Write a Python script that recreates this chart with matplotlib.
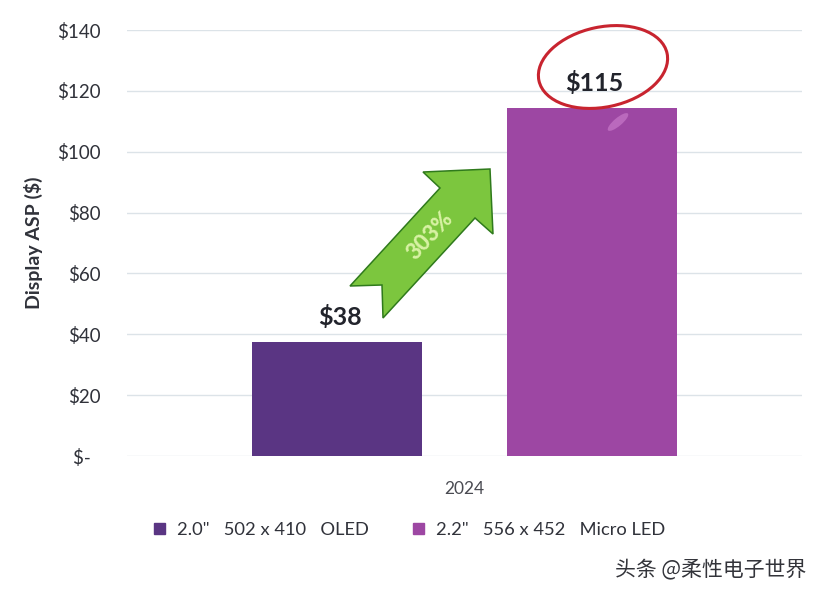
import numpy as np
import matplotlib.pyplot as plt
from matplotlib.patches import Ellipse, Polygon

plt.rcParams['font.family'] = ['Lato', 'DejaVu Sans']

years = ['2024']
series_names = ['2.0"   502 x 410   OLED', '2.2"   556 x 452   Micro LED']
series_values = [37.5, 114.5]
bar_labels = ['$38', '$115']
bar_colors = ['#5a3583', '#9d47a3']
y_ticks = [0, 20, 40, 60, 80, 100, 120, 140]
y_tick_labels = ['$-  ', '$20', '$40', '$60', '$80', '$100', '$120', '$140']
arrow_label = '303%'
watermark = '头条 @柔性电子世界'

W, H = 824, 596
TEXT = '#30323a'

fig = plt.figure(figsize=(W / 100, H / 100), dpi=100)
ax = fig.add_axes([127 / W, 1 - 456 / H, (802 - 127) / W, (456 - 30) / H])

x_pos = np.arange(len(series_values))
bars = ax.bar(x_pos, series_values, width=0.665, color=bar_colors, zorder=3)
ax.set_xlim(-0.824, 1.824)
ax.set_ylim(0, 140)

ax.set_yticks(y_ticks)
ax.set_yticklabels([s.replace('$', r'\$') for s in y_tick_labels], fontsize=13.5, color=TEXT)
ax.set_xticks([0.5])
ax.set_xticklabels(years, fontsize=12.5, color='#4a4b52')
ax.tick_params(axis='both', length=0)
ax.tick_params(axis='y', pad=19)
ax.tick_params(axis='x', pad=18)
ax.set_ylabel('Display ASP ($)'.replace('$', r'\$'), fontsize=14, fontweight='bold', color=TEXT)
ax.yaxis.set_label_coords((43 - 127) / (802 - 127), 0.5)
ax.grid(axis='y', color='#dce3e8', linewidth=1, zorder=0)
for spine in ax.spines.values():
    spine.set_visible(False)

for bar, label in zip(bars, bar_labels):
    ax.annotate(label.replace('$', r'\$'), (bar.get_x() + bar.get_width() / 2, bar.get_height()),
                xytext=(2, 9), textcoords='offset points', ha='center', va='bottom',
                fontsize=18, fontweight='bold', color='#22242c', zorder=6)

# legend squares come from the two bars
handles = [plt.Rectangle((0, 0), 1, 1, color=c) for c in bar_colors]
leg = fig.legend(handles, [s.replace('$', r'\$') for s in series_names], ncol=2, frameon=False,
                 loc='center left', bbox_to_anchor=(154 / W, 1 - 530 / H), fontsize=13.2,
                 handlelength=0.6, handleheight=0.6, handletextpad=0.65, columnspacing=2.4,
                 borderpad=0, borderaxespad=0, labelcolor=TEXT)

# overlay in pixel coordinates for the hand-drawn callouts
over = fig.add_axes([0, 0, 1, 1], facecolor='none')
over.set_xlim(0, W)
over.set_ylim(H, 0)
over.axis('off')

arrow_pts = [(490, 169), (423, 172), (440, 188), (350, 286), (382, 285), (383, 318), (475, 218), (493, 234)]
over.add_patch(Polygon(arrow_pts, closed=True, facecolor='#7cc63e', edgecolor='#2f7a1c', linewidth=1.1))
over.text(430, 236, arrow_label, rotation=47, ha='center', va='center', fontsize=16,
          fontweight='black', color='#d8f2a4', rotation_mode='anchor')

over.add_patch(Ellipse((603, 67), 131, 80, angle=-12, facecolor='none', edgecolor='#c8242f', linewidth=2.2))
over.add_patch(Ellipse((618, 122), 8, 26, angle=50, facecolor='#c272c4', edgecolor='none', alpha=0.8))

over.text(806, 569, watermark, ha='right', va='center', fontsize=15, color='#33343a',
          family=['Noto Sans CJK SC', 'DejaVu Sans'])

fig.savefig('out.png', dpi=100)
